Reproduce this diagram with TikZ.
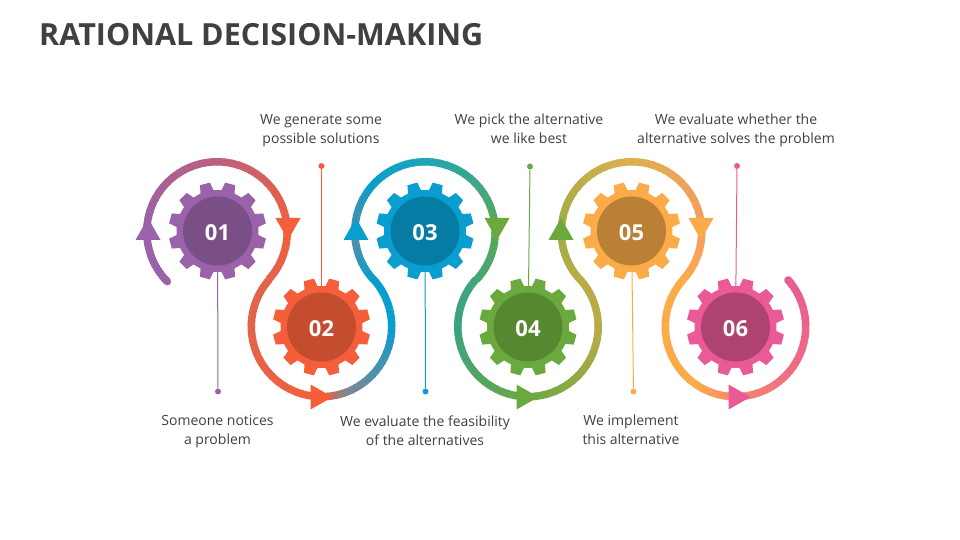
\documentclass[tikz,border=0pt]{standalone}
\usepackage{fontspec}
\setmainfont{Open Sans}
\usetikzlibrary{calc}

\definecolor{txtgray}{HTML}{404040}
\definecolor{cpurple}{HTML}{9A62A8}
\definecolor{cpurpled}{HTML}{7A4E86}
\definecolor{corange}{HTML}{F45F3A}
\definecolor{coranged}{HTML}{C44D2F}
\definecolor{cblue}{HTML}{0A9DCF}
\definecolor{cblued}{HTML}{067CA5}
\definecolor{cgreen}{HTML}{6BA93F}
\definecolor{cgreend}{HTML}{568832}
\definecolor{camber}{HTML}{FBAC49}
\definecolor{camberd}{HTML}{BA8136}
\definecolor{cpink}{HTML}{E95A96}
\definecolor{cpinkd}{HTML}{AE4270}
% stops along the band
\definecolor{srose}{HTML}{BC6080}
\definecolor{ssalmon}{HTML}{E2644C}
\definecolor{sgrey}{HTML}{808890}
\definecolor{sslate}{HTML}{5D8CA0}
\definecolor{steal}{HTML}{1FA5B8}
\definecolor{sleaf}{HTML}{5CA855}
\definecolor{ssea}{HTML}{45A578}
\definecolor{smint}{HTML}{38A285}
\definecolor{solive}{HTML}{BBAB47}
\definecolor{smoss}{HTML}{9DAE45}
\definecolor{ssand}{HTML}{DDAF50}
\definecolor{speach}{HTML}{F79C62}
\definecolor{scoral}{HTML}{F5886C}
\definecolor{srosy}{HTML}{EE6E82}

\tikzset{
	band/.style={line width=7.5pt},
	lead/.style={line width=1pt},
	hub/.style={circle,inner sep=0pt,minimum size=82pt},
	core/.style={circle,inner sep=0pt,minimum size=69pt,text=white,text height=19pt,text depth=0pt,font=\fontsize{22}{26}\selectfont\bfseries},
	pin/.style={circle,inner sep=0pt,minimum size=6pt},
	caption/.style={align=center,text=txtgray,font=\fontsize{14}{19}\selectfont,
		execute at begin node=\strut,execute at end node=\strut}
}

% name, x, y, colour, dark colour, number
\newcommand{\gearnode}[6]{
	\begin{scope}[shift={(#2,#3)}]
		\foreach \a in {15,45,...,345}
			\fill[#4] (\a-10:40) -- (\a-6:49) -- (\a+6:49) -- (\a+10:40) -- cycle;
	\end{scope}
	\node[hub,fill=#4] (#1) at (#2,#3) {};
	\node[core,fill=#5] (c#1) at (#2,#3) {#6};
}

% x, y, rotation, colour
\newcommand{\bandtip}[4]{
	\fill[#4,shift={(#1,#2)},rotate=#3] (-11,-12.5) -- (11,0) -- (-11,12.5) -- cycle;
}

\begin{document}
\begin{tikzpicture}[x=1pt,y=1pt]

	\useasboundingbox (0,0) rectangle (960,540);

	\node[anchor=west,inner sep=0pt,text=txtgray,font=\fontsize{30.5}{36}\selectfont\bfseries] (title) at (39,505.5) {RATIONAL DECISION-MAKING};

	% centres of the band arcs
	\coordinate (r1) at (217,308);
	\coordinate (r2) at (321.5,213.5);
	\coordinate (r3) at (425,308);
	\coordinate (r4) at (528,213.5);
	\coordinate (r5) at (631.5,308);
	\coordinate (r6) at (735.5,213.5);

	% band, cut into short arcs to get the colour runs
	\def\rr{70.2}
	\draw[band,cpurple,line cap=round] (r1) ++(225:\rr) arc[start angle=225,end angle=222,radius=\rr];
	\draw[band,cpink,line cap=round] (r6) ++(41.5:\rr) arc[start angle=41.5,end angle=38,radius=\rr];
	\foreach \c/\sa/\ea/\ca/\cb in {
		r1/225/180/cpurple/cpurple, r1/180/90/cpurple/srose, r1/90/0/srose/corange, r1/0/-42.3/corange/ssalmon,
		r2/137.7/180/ssalmon/ssalmon, r2/180/270/ssalmon/corange, r2/270/290/corange/sgrey, r2/290/360/sgrey/cblue, r2/360/402.3/cblue/cblue,
		r3/222.3/180/cblue/sslate, r3/180/140/sslate/cblue, r3/140/90/cblue/steal, r3/90/0/steal/sleaf, r3/0/-42.3/sleaf/ssea,
		r4/137.7/180/ssea/smint, r4/180/270/smint/cgreen, r4/270/360/cgreen/solive, r4/360/402.3/solive/solive,
		r5/222.3/180/solive/smoss, r5/180/90/smoss/ssand, r5/90/0/ssand/speach, r5/0/-42.3/speach/camber,
		r6/137.7/235/camber/camber, r6/235/270/camber/scoral, r6/270/320/scoral/srosy, r6/320/401.5/srosy/cpink}{
		\foreach \s in {0,...,15}{
			\pgfmathsetmacro{\ra}{\sa+(\ea-\sa)*\s/16}
			\pgfmathsetmacro{\rb}{\ra+(\ea-\sa)*1.25/16}
			\pgfmathsetmacro{\pct}{(\s+0.5)*100/16}
			\draw[band,draw=\cb!\pct!\ca] (\c) ++(\ra:\rr) arc[start angle=\ra,end angle=\rb,radius=\rr];
		}
	}

	\bandtip{148}{311}{90}{cpurple}
	\bandtip{288}{311}{-90}{corange}
	\bandtip{321.5}{143}{0}{corange}
	\bandtip{356}{311}{90}{cblue}
	\bandtip{497}{311}{-90}{cgreen}
	\bandtip{527.5}{143}{0}{cgreen}
	\bandtip{561}{311}{90}{cgreen}
	\bandtip{701}{311}{-90}{camber}
	\bandtip{739.5}{143}{0}{cpink}

	\gearnode{g1}{217.5}{309}{cpurple}{cpurpled}{01}
	\gearnode{g2}{321.5}{213}{corange}{coranged}{02}
	\gearnode{g3}{425}{309}{cblue}{cblued}{03}
	\gearnode{g4}{528}{213}{cgreen}{cgreend}{04}
	\gearnode{g5}{631.5}{309}{camber}{camberd}{05}
	\gearnode{g6}{735.5}{213}{cpink}{cpinkd}{06}

	\node[pin,fill=cpurple] (d1) at (218,148.5) {};
	\node[pin,fill=corange] (d2) at (321.5,374) {};
	\node[pin,fill=cblue] (d3) at (425.5,148.5) {};
	\node[pin,fill=cgreen] (d4) at (530,373.5) {};
	\node[pin,fill=camber] (d5) at (633.5,148.5) {};
	\node[pin,fill=cpink] (d6) at (737,374) {};

	\draw[lead,cpurple] (g1) -- (d1);
	\draw[lead,corange] (g2) -- (d2);
	\draw[lead,cblue] (g3) -- (d3);
	\draw[lead,cgreen] (g4) -- (d4);
	\draw[lead,camber] (g5) -- (d5);
	\draw[lead,cpink] (g6) -- (d6);

	\node[caption] (t1) at (217.5,107) {Someone notices\\a problem};
	\node[caption] (t2) at (321,408) {We generate some\\possible solutions};
	\node[caption] (t3) at (425,107) {We evaluate the feasibility\\of the alternatives};
	\node[caption] (t4) at (529,408) {We pick the alternative\\we like best};
	\node[caption] (t5) at (631,107) {We implement\\this alternative};
	\node[caption] (t6) at (736,408) {We evaluate whether the\\alternative solves the problem};

\end{tikzpicture}
\end{document}
